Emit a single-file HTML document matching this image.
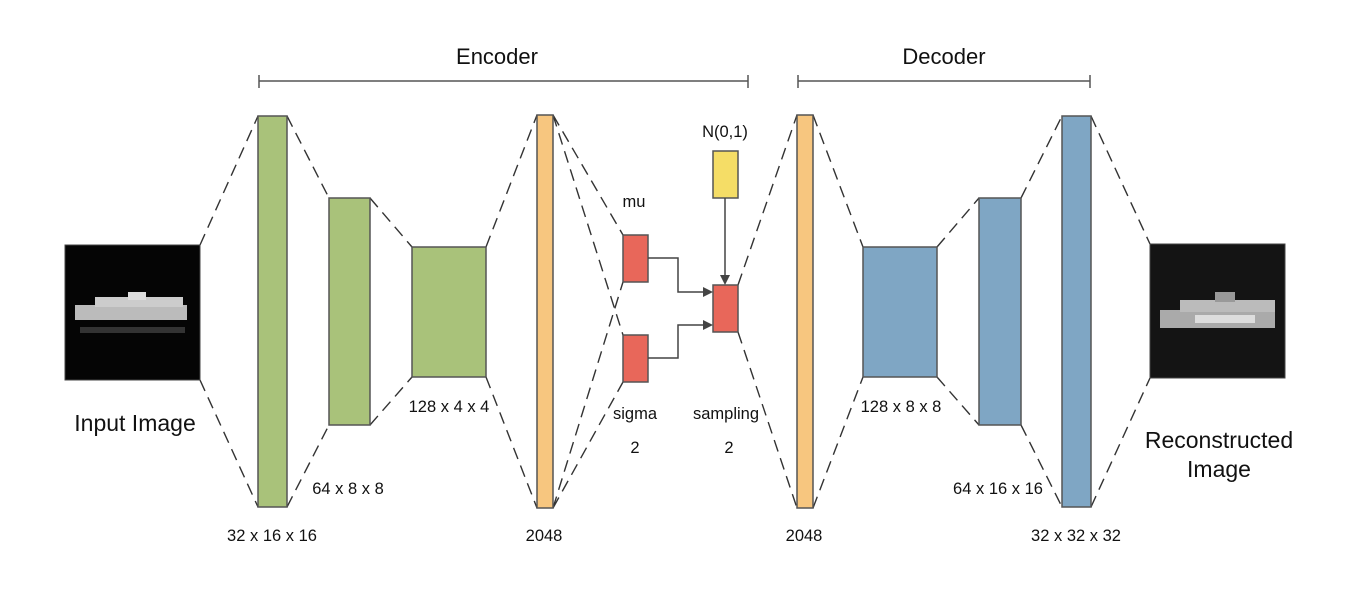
<!DOCTYPE html>
<html><head><meta charset="utf-8"><style>
html,body{margin:0;padding:0;background:#fff;width:1358px;height:607px;overflow:hidden}
svg text{font-family:"Liberation Sans",sans-serif;fill:#111}
</style></head><body>
<svg width="1358" height="607" viewBox="0 0 1358 607">
<g stroke="#333" stroke-width="1.4" stroke-dasharray="12,7" fill="none">
<line x1="200" y1="245" x2="258" y2="116"/><line x1="200" y1="380" x2="258" y2="507"/>
<line x1="287" y1="116" x2="329" y2="198"/><line x1="287" y1="507" x2="329" y2="425"/>
<line x1="370" y1="198" x2="412" y2="247"/><line x1="370" y1="425" x2="412" y2="377"/>
<line x1="486" y1="247" x2="537" y2="115"/><line x1="486" y1="377" x2="537" y2="508"/>
<line x1="553" y1="115" x2="623" y2="235"/><line x1="553" y1="115" x2="623" y2="335"/>
<line x1="553" y1="508" x2="623" y2="282"/><line x1="553" y1="508" x2="623" y2="382"/>
<line x1="738" y1="285" x2="797" y2="115"/><line x1="738" y1="332" x2="797" y2="508"/>
<line x1="813" y1="115" x2="863" y2="247"/><line x1="813" y1="508" x2="863" y2="377"/>
<line x1="937" y1="247" x2="979" y2="198"/><line x1="937" y1="377" x2="979" y2="425"/>
<line x1="1021" y1="198" x2="1062" y2="116"/><line x1="1021" y1="425" x2="1062" y2="507"/>
<line x1="1091" y1="116" x2="1150" y2="244"/><line x1="1091" y1="507" x2="1150" y2="378"/>
</g>
<g stroke="#555" stroke-width="1.5">
<line x1="259" y1="81" x2="748" y2="81"/><line x1="259" y1="75" x2="259" y2="88"/><line x1="748" y1="75" x2="748" y2="88"/>
<line x1="798" y1="81" x2="1090" y2="81"/><line x1="798" y1="75" x2="798" y2="88"/><line x1="1090" y1="75" x2="1090" y2="88"/>
</g>
<text x="497" y="64" font-size="22" text-anchor="middle">Encoder</text>
<text x="944" y="64" font-size="22" text-anchor="middle">Decoder</text>
<g stroke="#555" stroke-width="1.5">
<rect x="258" y="116" width="29" height="391" fill="#a9c27a"/>
<rect x="329" y="198" width="41" height="227" fill="#a9c27a"/>
<rect x="412" y="247" width="74" height="130" fill="#a9c27a"/>
<rect x="537" y="115" width="16" height="393" fill="#f7c67f"/>
<rect x="623" y="235" width="25" height="47" fill="#e8675a"/>
<rect x="623" y="335" width="25" height="47" fill="#e8675a"/>
<rect x="713" y="151" width="25" height="47" fill="#f5dd66"/>
<rect x="713" y="285" width="25" height="47" fill="#e8675a"/>
<rect x="797" y="115" width="16" height="393" fill="#f7c67f"/>
<rect x="863" y="247" width="74" height="130" fill="#7fa6c4"/>
<rect x="979" y="198" width="42" height="227" fill="#7fa6c4"/>
<rect x="1062" y="116" width="29" height="391" fill="#7fa6c4"/>
</g>
<g stroke="#444" stroke-width="1.5" fill="none">
<polyline points="648,258 678,258 678,292 704,292"/>
<polyline points="648,358 678,358 678,325 704,325"/>
<line x1="725" y1="198" x2="725" y2="275"/>
</g>
<g fill="#444">
<polygon points="713,292 703,287 703,297"/><polygon points="713,325 703,320 703,330"/><polygon points="725,285 720,275 730,275"/>
</g>
<g>
<rect x="65" y="245" width="135" height="135" fill="#050505" stroke="#444"/>
<rect x="75" y="305" width="112" height="15" fill="#bbb"/>
<rect x="95" y="297" width="88" height="10" fill="#ccc"/>
<rect x="128" y="292" width="18" height="8" fill="#ddd"/>
<rect x="80" y="327" width="105" height="6" fill="#333"/>
</g>
<g>
<rect x="1150" y="244" width="135" height="134" fill="#141414" stroke="#444"/>
<rect x="1160" y="310" width="115" height="18" fill="#aaa"/>
<rect x="1180" y="300" width="95" height="12" fill="#bbb"/>
<rect x="1215" y="292" width="20" height="10" fill="#999"/>
<rect x="1195" y="315" width="60" height="8" fill="#ddd"/>
</g>
<g font-size="16.5" text-anchor="middle">
<text x="272" y="541">32 x 16 x 16</text>
<text x="348" y="494">64 x 8 x 8</text>
<text x="449" y="412">128 x 4 x 4</text>
<text x="544" y="541">2048</text>
<text x="634" y="207">mu</text>
<text x="635" y="419">sigma</text>
<text x="635" y="453">2</text>
<text x="726" y="419">sampling</text>
<text x="729" y="453">2</text>
<text x="725" y="137">N(0,1)</text>
<text x="804" y="541">2048</text>
<text x="901" y="412">128 x 8 x 8</text>
<text x="998" y="494">64 x 16 x 16</text>
<text x="1076" y="541">32 x 32 x 32</text>
</g>
<g font-size="23" text-anchor="middle">
<text x="135" y="431">Input Image</text>
<text x="1219" y="448">Reconstructed</text>
<text x="1219" y="477">Image</text>
</g>
</svg>
</body></html>
